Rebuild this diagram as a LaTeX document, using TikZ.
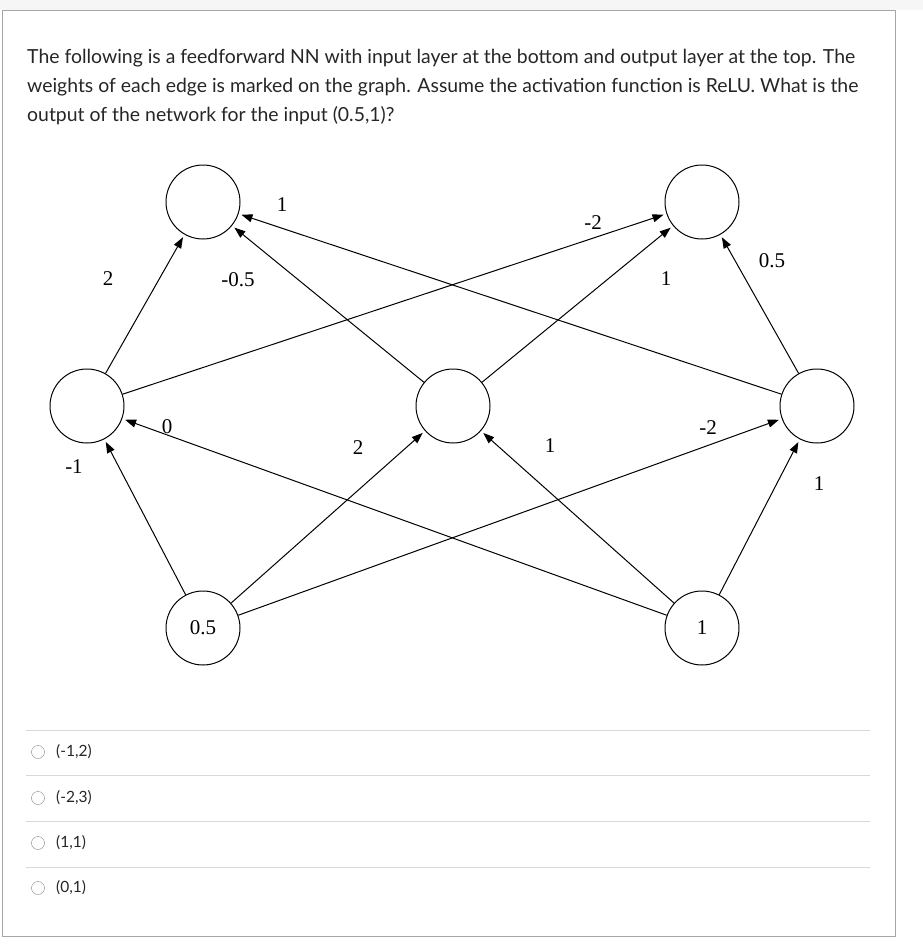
\documentclass[tikz,border=0pt]{standalone}
\usepackage{fontspec}
\setmainfont{Lato}
\newfontfamily\tms{Liberation Serif}
\usetikzlibrary{arrows.meta}
\begin{document}
\begin{tikzpicture}[x=1pt,y=-1pt,
  neuron/.style={draw,line width=1pt,circle,minimum size=74pt,inner sep=0pt,font=\tms\fontsize{21}{21}\selectfont},
  conn/.style={line width=1pt,-{Triangle[length=11pt,width=8pt]},shorten >=3pt},
  wlab/.style={font=\tms\fontsize{21}{21}\selectfont,inner sep=0pt},
  qtext/.style={anchor=west,font=\fontsize{19.4}{19.4}\selectfont,inner sep=0pt,text=black!85},
  opt/.style={anchor=west,font=\fontsize{15.5}{15.5}\selectfont,inner sep=0pt,text=black!85},
  radio/.style={draw=gray,circle,minimum size=13pt,inner sep=0pt},
  rule/.style={draw=gray!30,line width=0.8pt}]
\useasboundingbox (0,0) rectangle (923,950);
\fill[gray!7] (0,0) rectangle (923,10);
\draw[gray!70,line width=0.8pt] (2,10) rectangle (895,936);
\node[qtext] (q1) at (27,58) {The following is a feedforward NN with input layer at the bottom and output layer at the top. The};
\node[qtext] (q2) at (27,87) {weights of each edge is marked on the graph. Assume the activation function is ReLU. What is the};
\node[qtext] (q3) at (27,116) {output of the network for the input (0.5,1)?};
\node[neuron] (TL) at (203,202) {};
\node[neuron] (TR) at (702,202) {};
\node[neuron] (ML) at (87,406) {};
\node[neuron] (MM) at (453,406) {};
\node[neuron] (MR) at (817,406) {};
\node[neuron] (BL) at (203,628) {0.5};
\node[neuron] (BR) at (702,628) {1};
\draw[conn] (ML) -- (TL);
\draw[conn] (MM) -- (TL);
\draw[conn] (MR) -- (TL);
\draw[conn] (ML) -- (TR);
\draw[conn] (MM) -- (TR);
\draw[conn] (MR) -- (TR);
\draw[conn] (BL) -- (ML);
\draw[conn] (BR) -- (ML);
\draw[conn] (BL) -- (MM);
\draw[conn] (BR) -- (MM);
\draw[conn] (BL) -- (MR);
\draw[conn] (BR) -- (MR);
\node[wlab] (w1) at (108,279) {2};
\node[wlab] (w2) at (238,280) {-0.5};
\node[wlab] (w3) at (282,205) {1};
\node[wlab] (w4) at (167,427) {0};
\node[wlab] (w5) at (74,467) {-1};
\node[wlab] (w6) at (358,448) {2};
\node[wlab] (w7) at (593,223) {-2};
\node[wlab] (w8) at (666,279) {1};
\node[wlab] (w9) at (772,261) {0.5};
\node[wlab] (w10) at (550,446) {1};
\node[wlab] (w11) at (708,428) {-2};
\node[wlab] (w12) at (819,484) {1};
\foreach \y in {730,775,821,867} \draw[rule] (26,\y) -- (870,\y);
\node[radio] (r1) at (38,752) {};
\node[radio] (r2) at (38,798) {};
\node[radio] (r3) at (38,843) {};
\node[radio] (r4) at (38,888) {};
\node[opt] (o1) at (56,752) {(-1,2)};
\node[opt] (o2) at (56,798) {(-2,3)};
\node[opt] (o3) at (56,843) {(1,1)};
\node[opt] (o4) at (56,888) {(0,1)};
\end{tikzpicture}
\end{document}
